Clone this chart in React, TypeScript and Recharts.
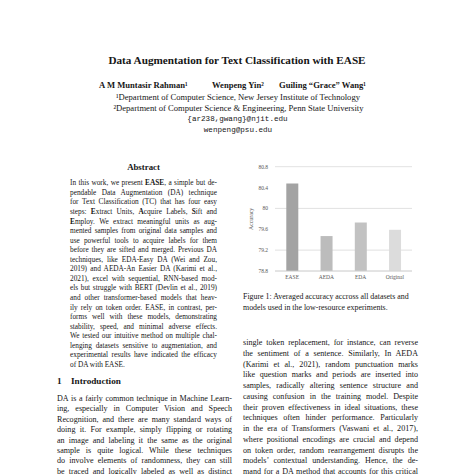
import React from 'react';
import { BarChart, Bar, XAxis, YAxis, CartesianGrid, Cell, Label } from 'recharts';

// ---- chart data ----
const categories = ['EASE', 'AEDA', 'EDA', 'Original'];
const accuracy = [80.48, 79.47, 79.73, 79.59];
const barColors = ['#a3a3a3', '#bcbcbc', '#c2c2c2', '#dcdcdc'];
const yTicks = [78.8, 79.2, 79.6, 80, 80.4, 80.8];
const yLabel = 'Accuracy';

// ---- page text ----
const title = 'Data Augmentation for Text Classification with EASE';
const authors = ['A M Muntasir Rahman¹', 'Wenpeng Yin²', 'Guiling “Grace” Wang¹'];
const affiliations = [
  '¹Department of Computer Science, New Jersey Institute of Technology',
  '²Department of Computer Science & Engineering, Penn State University',
];
const emails = ['{ar238,gwang}@njit.edu', 'wenpeng@psu.edu'];
const abstractLines = [
  'In this work, we present **EASE**, a simple but de-',
  'pendable Data Augmentation (DA) technique',
  'for Text Classification (TC) that has four easy',
  'steps: **E**xtract Units, **A**cquire Labels, **S**ift and',
  '**E**mploy. We extract meaningful units as aug-',
  'mented samples from original data samples and',
  'use powerful tools to acquire labels for them',
  'before they are sifted and merged. Previous DA',
  'techniques, like EDA-Easy DA (Wei and Zou,',
  '2019) and AEDA-An Easier DA (Karimi et al.,',
  '2021), excel with sequential, RNN-based mod-',
  'els but struggle with BERT (Devlin et al., 2019)',
  'and other transformer-based models that heav-',
  'ily rely on token order. EASE, in contrast, per-',
  'forms well with these models, demonstrating',
  'stability, speed, and minimal adverse effects.',
  'We tested our intuitive method on multiple chal-',
  'lenging datasets sensitive to augmentation, and',
  'experimental results have indicated the efficacy',
  'of DA with EASE.',
];
const introLines = [
  'DA is a fairly common technique in Machine Learn-',
  'ing, especially in Computer Vision and Speech',
  'Recognition, and there are many standard ways of',
  'doing it. For example, simply flipping or rotating',
  'an image and labeling it the same as the original',
  'sample is quite logical. While these techniques',
  'do involve elements of randomness, they can still',
  'be traced and logically labeled as well as distinct',
];
const rightLines = [
  'single token replacement, for instance, can reverse',
  'the sentiment of a sentence. Similarly, In AEDA',
  '(Karimi et al., 2021), random punctuation marks',
  'like question marks and periods are inserted into',
  'samples, radically altering sentence structure and',
  'causing confusion in the training model. Despite',
  'their proven effectiveness in ideal situations, these',
  'techniques often hinder performance. Particularly',
  'in the era of Transformers (Vaswani et al., 2017),',
  'where positional encodings are crucial and depend',
  'on token order, random rearrangement disrupts the',
  'models’ contextual understanding. Hence, the de-',
  'mand for a DA method that accounts for this critical',
];
const captionLines = [
  'Figure 1:  Averaged accuracy accross all datasets and',
  'models used in the low-resource experiments.',
];

const chartData = categories.map((name, i) => ({ name, value: accuracy[i] }));

const SERIF = '"Liberation Serif", "DejaVu Serif", serif';
const MONO = '"Liberation Mono", "DejaVu Sans Mono", monospace';
const INK = '#161616';

function renderRich(text: string) {
  const parts = text.split('**');
  return parts.map((p, i) => (i % 2 === 1 ? <b key={i}>{p}</b> : <span key={i}>{p}</span>));
}

type LineProps = {
  x: number;
  y: number;
  w?: number;
  size: number;
  text: string;
  justify?: boolean;
  bold?: boolean;
  family?: string;
  align?: 'left' | 'center' | 'right';
};

function Line({ x, y, w, size, text, justify, bold, family, align }: LineProps) {
  return (
    <div
      style={{
        position: 'absolute',
        left: x,
        top: y - size * 0.55,
        width: w,
        fontSize: size,
        lineHeight: `${size}px`,
        height: size,
        fontFamily: family || SERIF,
        fontWeight: bold ? 700 : 400,
        color: INK,
        textAlign: justify ? 'justify' : align || 'left',
        textAlignLast: justify ? 'justify' : align || 'left',
        whiteSpace: justify ? 'normal' : 'nowrap',
        overflow: 'visible',
      }}
    >
      {renderRich(text)}
    </div>
  );
}

function YLabel(props: any) {
  const vb = props.viewBox || {};
  const cx = vb.x + 11;
  const cy = vb.y + vb.height / 2;
  return (
    <text
      x={cx}
      y={cy}
      transform={`rotate(-90, ${cx}, ${cy})`}
      textAnchor="middle"
      dominantBaseline="central"
      fontSize={5.8}
      fontFamily={SERIF}
      fill="#595959"
    >
      {yLabel}
    </text>
  );
}

function Chart() {
  return (
    <div style={{ position: 'absolute', left: 240, top: 155, width: 180, height: 135 }}>
      <BarChart
        width={180}
        height={135}
        data={chartData}
        margin={{ top: 11.7, right: 8, left: 0, bottom: 9 }}
        barCategoryGap="33%"
      >
        <CartesianGrid vertical={false} stroke="#d9d9d9" strokeWidth={0.8} />
        <XAxis
          dataKey="name"
          height={10}
          tickLine={false}
          tickSize={0}
          tickMargin={4}
          axisLine={{ stroke: '#d0d0d0', strokeWidth: 0.8 }}
          tick={{ fontSize: 5.5, fill: '#595959', fontFamily: SERIF }}
          interval={0}
        />
        <YAxis
          width={35}
          domain={[78.8, 80.8]}
          ticks={yTicks}
          tickLine={false}
          axisLine={false}
          tickSize={0}
          tickMargin={7}
          tick={{ fontSize: 5.5, fill: '#595959', fontFamily: SERIF }}
        >
          <Label content={YLabel} />
        </YAxis>
        <Bar dataKey="value" isAnimationActive={false}>
          {chartData.map((d, i) => (
            <Cell key={d.name} fill={barColors[i]} />
          ))}
        </Bar>
      </BarChart>
    </div>
  );
}

export default function App() {
  const absStart = 183.3;
  const absStep = 9.56;
  const introStart = 399.5;
  const introStep = 10.4;
  const rightStart = 343.5;
  const rightStep = 10.75;
  return (
    <div
      style={{
        position: 'absolute',
        left: 0,
        top: 0,
        width: 474,
        height: 474,
        overflow: 'hidden',
        background: '#ffffff',
        fontFamily: SERIF,
      }}
    >
      <Line x={0} w={474} y={61} size={11.2} bold align="center" text={title} />
      <Line x={99} y={85.5} size={8.6} bold text={authors[0]} />
      <Line x={212} y={85.5} size={8.6} bold text={authors[1]} />
      <Line x={279} y={85.5} size={8.6} bold text={authors[2]} />
      <Line x={0} w={476} y={97.3} size={8.6} align="center" text={affiliations[0]} />
      <Line x={0} w={477} y={109} size={8.6} align="center" text={affiliations[1]} />
      <Line x={0} w={475} y={120.3} size={7.6} family={MONO} align="center" text={emails[0]} />
      <Line x={0} w={476} y={131} size={7.6} family={MONO} align="center" text={emails[1]} />

      <Line x={70} w={147} y={167.5} size={8.8} bold align="center" text="Abstract" />
      {abstractLines.map((t, i) => (
        <Line
          key={'a' + i}
          x={70}
          w={147}
          y={absStart + i * absStep}
          size={7.3}
          justify={i < abstractLines.length - 1}
          text={t}
        />
      ))}

      <Line x={57} y={382} size={9.2} bold text="1" />
      <Line x={71} y={382} size={9.2} bold text="Introduction" />
      {introLines.map((t, i) => (
        <Line key={'i' + i} x={57} w={175} y={introStart + i * introStep} size={8.1} justify text={t} />
      ))}

      <Chart />
      {captionLines.map((t, i) => (
        <Line key={'c' + i} x={243} y={297.5 + i * 10.7} size={7.9} text={t} />
      ))}

      {rightLines.map((t, i) => (
        <Line key={'r' + i} x={243} w={175} y={rightStart + i * rightStep} size={8.1} justify text={t} />
      ))}
    </div>
  );
}
